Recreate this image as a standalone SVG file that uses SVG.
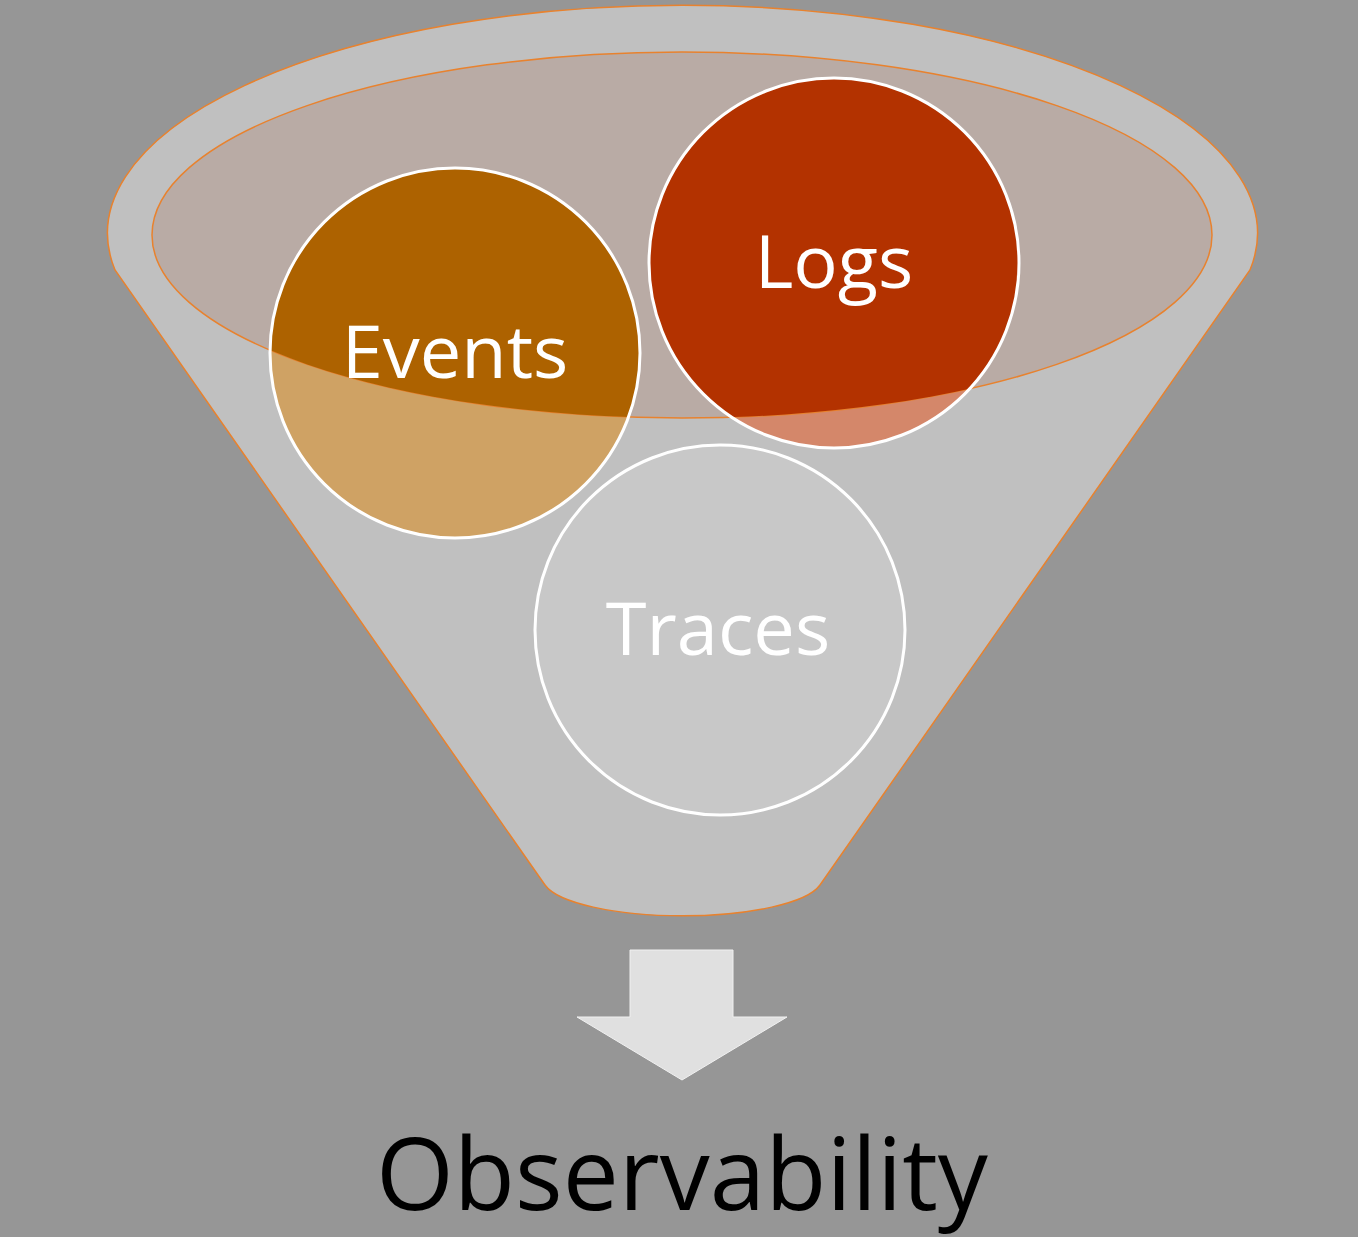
<svg xmlns="http://www.w3.org/2000/svg" width="1358" height="1237" viewBox="0 0 1358 1237">
<style>
.lbl{font-family:"Open Sans","Liberation Sans",sans-serif;fill:#fff;text-anchor:middle;font-size:74px}
.ring{fill:none;stroke:#fff;stroke-width:3}
</style>
<defs><clipPath id="inner"><ellipse cx="682" cy="235" rx="530" ry="183"/></clipPath></defs>
<rect width="1358" height="1237" fill="#969696"/>
<g id="funnel">
<path d="M115,270 A575,228 0 1 1 1250,270 L820,885 A140,38 0 0 1 545,885 Z" fill="#c0c0c0" stroke="#e8822e" stroke-width="1.5"/>
</g>
<g id="traces"><circle cx="720" cy="630" r="185" fill="#c8c8c8"/><circle class="ring" cx="720" cy="630" r="185"/><text class="lbl" x="718" y="655">Traces</text></g>
<g id="events"><circle cx="455" cy="353" r="185" fill="#cfa264"/></g>
<g id="logs"><circle cx="834" cy="263" r="185" fill="#d4876a"/></g>
<g id="rim">
<ellipse cx="682" cy="235" rx="530" ry="183" fill="#b9aba5" stroke="#e8822e" stroke-width="1.5"/>
<g clip-path="url(#inner)"><circle cx="455" cy="353" r="185" fill="#ad6200"/><circle cx="834" cy="263" r="185" fill="#b33200"/></g>
</g>
<circle class="ring" cx="455" cy="353" r="185"/>
<circle class="ring" cx="834" cy="263" r="185"/>
<text class="lbl" x="455" y="378">Events</text>
<text class="lbl" x="834" y="288">Logs</text>
<g id="connectors"><path d="M630,950 H733 V1017 H787 L682,1080 L577,1017 H630 Z" fill="#e0e0e0" stroke="#f0f0f0" stroke-width="1"/></g>
<text x="682" y="1210" font-family="'Open Sans','Liberation Sans',sans-serif" font-size="100" text-anchor="middle" fill="#000">Observability</text>
</svg>
